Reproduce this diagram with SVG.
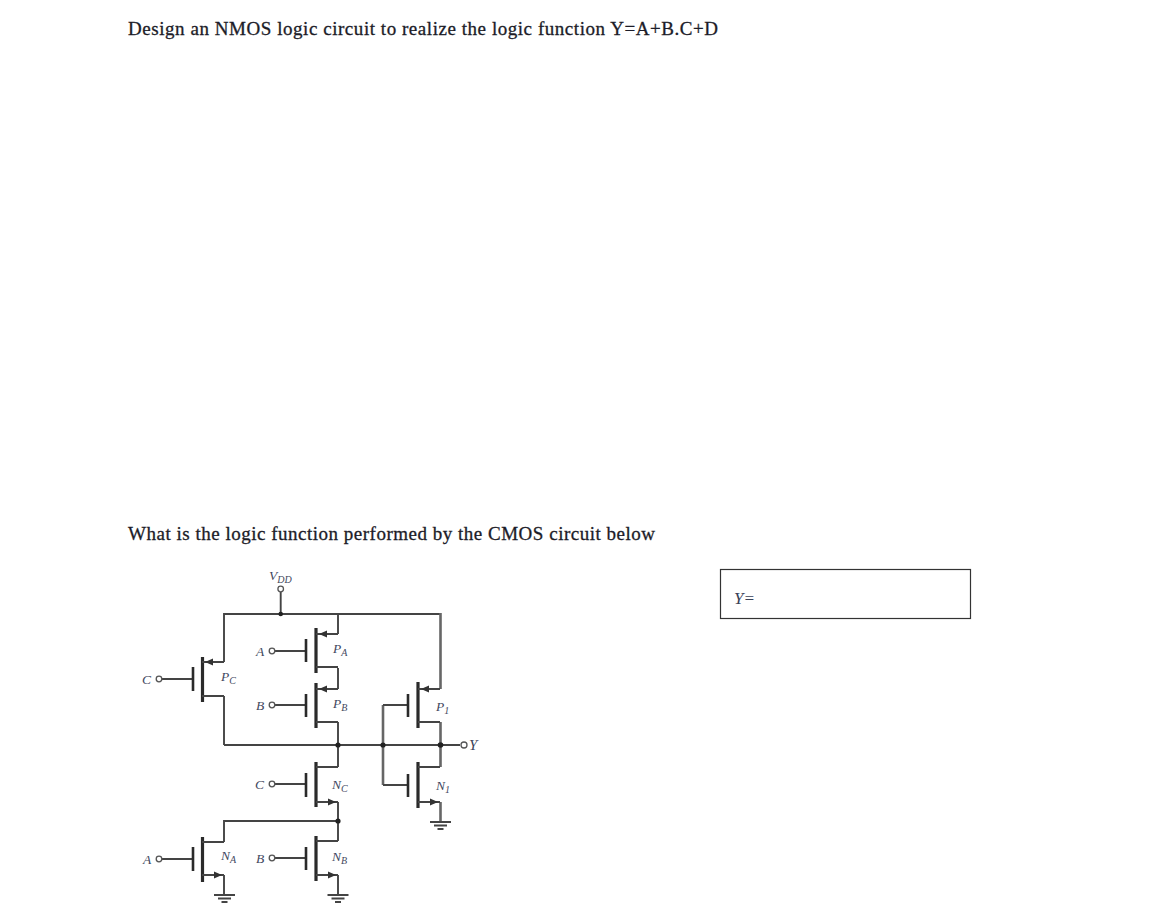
<svg xmlns="http://www.w3.org/2000/svg" width="1152" height="905" viewBox="0 0 1152 905">
<defs>
<style>
.t{font-family:"Liberation Serif","Times New Roman",serif;font-size:19px;fill:#1c1c28;stroke:#1c1c28;stroke-width:.3px}
.l{font-family:"Liberation Serif","Times New Roman",serif;font-style:italic;font-size:13.500px;fill:#3f4860}
.s{font-size:10px}
.w{fill:none;stroke:#444;stroke-width:1.900}
.h{fill:none;stroke:#666;stroke-width:2.600}
.g{fill:none;stroke:#2a2a2a;stroke-width:2.600}
.c{fill:none;stroke:#2a2a2a;stroke-width:3.200}
.o{fill:#fff;stroke:#555;stroke-width:1.300}
.d{fill:#222}
.a{fill:#333}
</style>
<g id="gnd"><path d="M-10.500 0H10.500M-6.500 3.500H6.500M-3 7H3" fill="none" stroke="#444" stroke-width="2"/></g>
</defs>
<rect width="1152" height="905" fill="#fff"/>
<text class="t" x="128" y="35" textLength="590" lengthAdjust="spacing">Design an NMOS logic circuit to realize the logic function Y=A+B.C+D</text>
<text class="t" x="128" y="540" textLength="527" lengthAdjust="spacing">What is the logic function performed by the CMOS circuit below</text>
<g id="answer-box"><rect x="720.500" y="569.500" width="250" height="49" fill="#fff" stroke="#333" stroke-width="1.200"/><text x="734" y="604" font-family="Liberation Serif,serif" font-style="italic" font-size="17" fill="#3a4258">Y=</text></g>
<g id="connectors">
<path class="w" d="M280.700 592V614M224 662V614H440M224 696V745M224 745H460"/>
<path class="w" d="M338 614V634M338 668V689M338 722V767M338 802V841M338 875V895M224 842V821H338M224 875V895"/>
<path class="h" d="M440.500 613V689M440.500 722V767M440.500 802V822M383 705V785"/>
<path class="w" d="M383 705H408M383 785H408"/>
<path class="w" d="M162 679H193M162 859H193M275 651H306M275 705H306M275 784H306M275 858H306"/>
<circle class="d" cx="280.700" cy="614" r="2.300"/><circle class="d" cx="338" cy="745" r="2.600"/><circle class="d" cx="383" cy="745" r="2.600"/><circle class="d" cx="440.500" cy="745" r="2.800"/><circle class="d" cx="338" cy="821" r="2.600"/>
<circle class="o" cx="280.700" cy="589" r="2.800"/><circle class="o" cx="464" cy="745" r="3"/>
<circle class="o" cx="159" cy="679" r="2.800"/><circle class="o" cx="159" cy="859" r="2.800"/><circle class="o" cx="272" cy="651" r="2.800"/><circle class="o" cx="272" cy="705" r="2.800"/><circle class="o" cx="272" cy="784" r="2.800"/><circle class="o" cx="272" cy="858" r="2.800"/>
</g>
<g id="PC"><path class="c" d="M202.500 657V702"/><path class="g" d="M193 667V691"/><path class="w" d="M202 662H224M202 696H224"/><path class="a" d="M205 662l8-3.500v7z"/></g>
<g id="PA"><path class="c" d="M316 628V673"/><path class="g" d="M306 639V662"/><path class="w" d="M316 634H338M316 667H338"/><path class="a" d="M319 634l8-3.500v7z"/></g>
<g id="PB"><path class="c" d="M316 683V728"/><path class="g" d="M306 694V717"/><path class="w" d="M316 689H338M316 722H338"/><path class="a" d="M319 689l8-3.500v7z"/></g>
<g id="P1"><path class="c" d="M418 682V728"/><path class="g" d="M408 694V717"/><path class="w" d="M418 689H440M418 722H440"/><path class="a" d="M421 689l8-3.500v7z"/></g>
<g id="NC"><path class="c" d="M316 762V807"/><path class="g" d="M306 773V797"/><path class="w" d="M316 767H338M316 802H338"/><path class="a" d="M336 802l-8-3.500v7z"/></g>
<g id="NB"><path class="c" d="M316 836V881"/><path class="g" d="M306 847V870"/><path class="w" d="M316 841H338M316 875H338"/><path class="a" d="M336 875l-8-3.500v7z"/></g>
<g id="NA"><path class="c" d="M202.500 837V882"/><path class="g" d="M193 847V871"/><path class="w" d="M202 842H224M202 875H224"/><path class="a" d="M222 875l-8-3.500v7z"/></g>
<g id="N1"><path class="c" d="M418 762V808"/><path class="g" d="M408 774V797"/><path class="w" d="M418 767H440M418 802H440"/><path class="a" d="M438 802l-8-3.500v7z"/></g>
<g id="grounds"><use href="#gnd" x="224.500" y="895"/><use href="#gnd" x="338" y="895"/><use href="#gnd" x="440.500" y="822"/></g>
<g id="labels">
<text class="l" x="269" y="580">V<tspan class="s" dy="2.500">DD</tspan></text>
<text class="l" x="142" y="684">C</text>
<text class="l" x="256" y="656">A</text>
<text class="l" x="256" y="710">B</text>
<text class="l" x="255" y="789">C</text>
<text class="l" x="143" y="864">A</text>
<text class="l" x="256" y="863">B</text>
<text class="l" x="221" y="681">P<tspan class="s" dy="2.500">C</tspan></text>
<text class="l" x="333" y="653">P<tspan class="s" dy="2.500">A</tspan></text>
<text class="l" x="333" y="708">P<tspan class="s" dy="2.500">B</tspan></text>
<text class="l" x="436" y="711">P<tspan class="s" dy="2.500">1</tspan></text>
<text class="l" x="332" y="789">N<tspan class="s" dy="2.500">C</tspan></text>
<text class="l" x="221" y="860">N<tspan class="s" dy="2.500">A</tspan></text>
<text class="l" x="332" y="861">N<tspan class="s" dy="2.500">B</tspan></text>
<text class="l" x="436" y="790">N<tspan class="s" dy="2.500">1</tspan></text>
<text x="469" y="750" font-family="Liberation Serif,serif" font-style="italic" font-size="15" fill="#3a4258">Y</text>
</g>
</svg>
